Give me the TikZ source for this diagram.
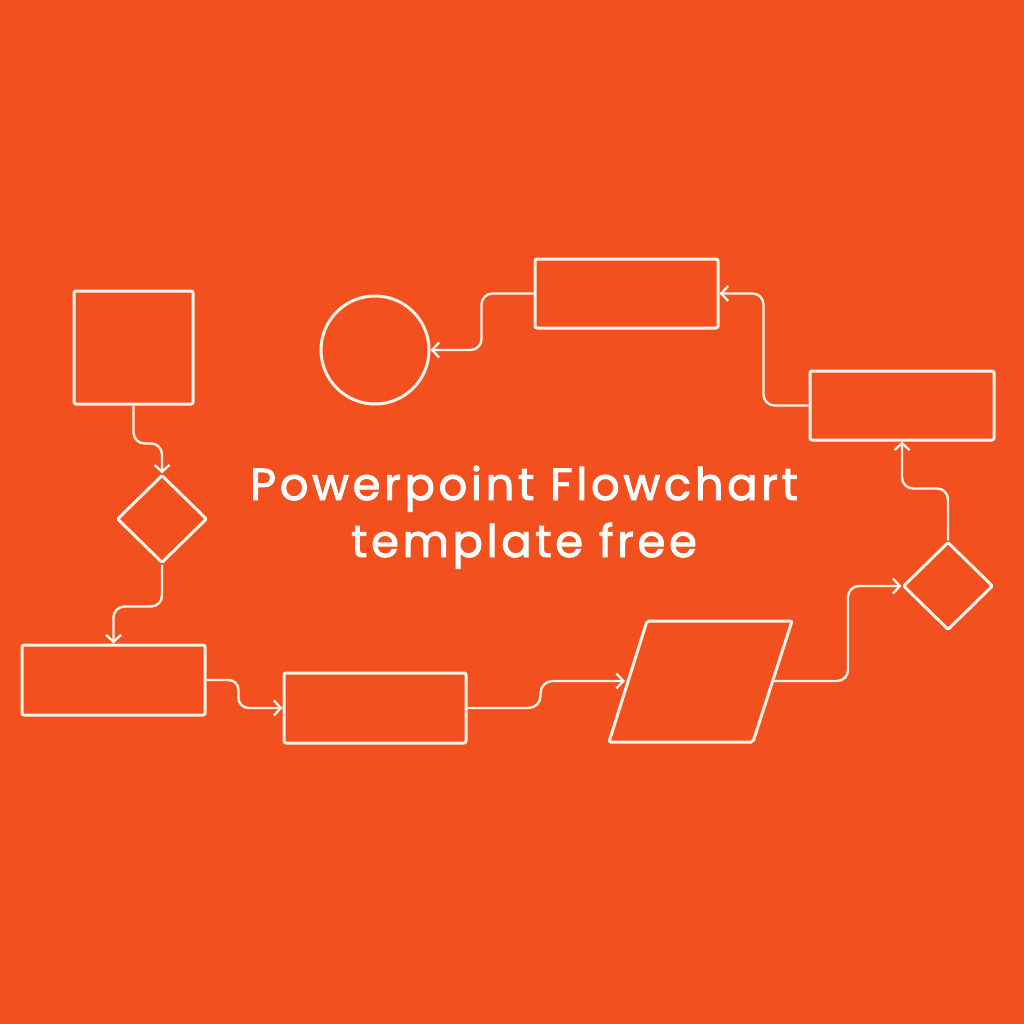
\documentclass[tikz,border=0pt]{standalone}
\usepackage{fontspec}
\setmainfont{Poppins}
\newfontfamily\titlefont{Poppins}[LetterSpace=8,FakeBold=2]
\usetikzlibrary{shapes.geometric,arrows.meta}
\definecolor{bgorange}{RGB}{242,80,30}
\definecolor{cream}{RGB}{255,243,232}
\tikzset{
  box/.style={draw=cream, line width=3pt, rounded corners=2pt, inner sep=0pt},
  decision/.style={draw=cream, line width=3pt, diamond, inner sep=0pt, rounded corners=1.5pt},
  conn/.style={draw=cream, line width=2.4pt, rounded corners=11pt,
    -{Straight Barb[length=7pt,width=15pt]}},
  titletext/.style={text=white, font=\titlefont\fontsize{45}{52}\selectfont, inner sep=0pt}
}
\begin{document}
\begin{tikzpicture}[x=1pt,y=-1pt]
\fill[bgorange] (0,0) rectangle (1024,1024);
\useasboundingbox (0,0) rectangle (1024,1024);
% shapes
\node[box, minimum width=119pt, minimum height=113pt] (A) at (133.5,347.5) {};
\node[decision, minimum width=90pt, minimum height=88pt] (B) at (162,519) {};
\node[box, minimum width=183pt, minimum height=70pt] (C) at (113.5,680) {};
\node[box, minimum width=182pt, minimum height=70pt] (D) at (375,708) {};
\draw[draw=cream, line width=3pt, rounded corners=2pt]
  (647,621) -- (792,621) -- (753,742) -- (609,742) -- cycle;
\coordinate (Ein) at (625,681);
\coordinate (Eout) at (773,681);
\node[decision, minimum width=90pt, minimum height=88pt] (F) at (948,586) {};
\node[box, minimum width=184pt, minimum height=69pt] (G) at (902,405.5) {};
\node[box, minimum width=183pt, minimum height=69pt] (H) at (626.5,293.5) {};
\node[draw=cream, line width=3pt, circle, minimum size=108pt, inner sep=0pt] (I) at (375,350) {};
% connectors
\draw[conn] (A.south) -- ++(0,38) -| (B.north);
\draw[conn] (B.south) -- ++(0,42) -| (C.north);
\draw[conn, rounded corners=10pt] (C.east) -- ++(32,0) |- (D.west);
\draw[conn, rounded corners=12pt] (D.east) -- ++(73,0) |- (Ein);
\draw[conn] (Eout) -- (848,681) |- (F.west);
\draw[conn] (F.north) -- ++(0,-52) -| (G.south);
\draw[conn] (G.west) -- ++(-45,0) |- (H.east);
\draw[conn] (H.west) -- ++(-52,0) |- (I.east);
% title
\node[titletext, anchor=base] (T1) at (524,500) {Powerpoint Flowchart};
\node[titletext, anchor=base] (T2) at (524,557) {template free};
\end{tikzpicture}
\end{document}
